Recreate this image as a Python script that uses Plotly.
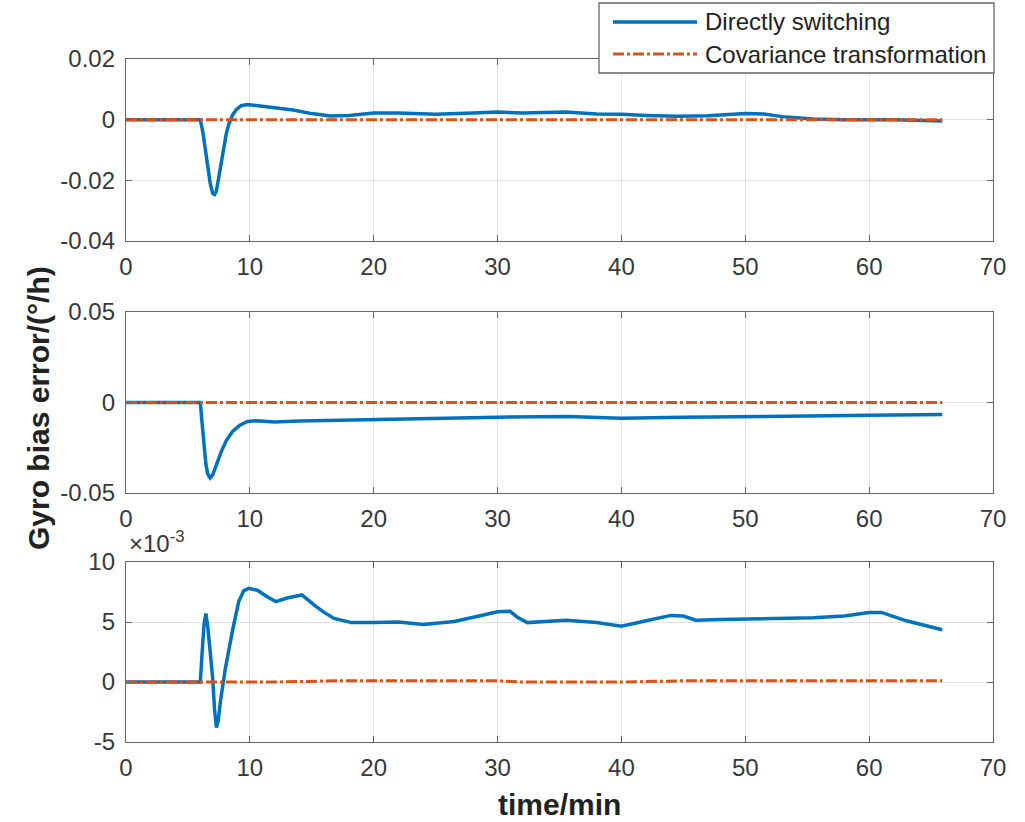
import plotly.graph_objects as go

# ---------------- data ----------------
t_blue1 = [0, 6.0, 6.2, 6.4, 6.6, 6.8, 7.0, 7.15, 7.3, 7.5, 7.7, 7.9, 8.1, 8.3, 8.6, 8.9, 9.3, 9.8, 10.5, 12,
           13.5, 15, 16.5, 18, 20, 22, 25, 28, 30, 32, 35.5, 38, 40, 42, 44.5, 47, 50, 51.5, 53, 55.5, 58, 62,
           65.9]
v_blue1 = [0, 0, -0.004, -0.010, -0.016, -0.021, -0.0243, -0.0247, -0.0235, -0.019, -0.0135, -0.0085, -0.0045,
           -0.0015, 0.0015, 0.0033, 0.0046, 0.005, 0.0047, 0.0038, 0.0032, 0.002, 0.0012, 0.0014, 0.0022, 0.0022,
           0.0018, 0.0022, 0.0025, 0.0022, 0.0025, 0.0019, 0.0018, 0.0014, 0.0011, 0.0013, 0.002, 0.0019, 0.001,
           0.0002, 0, 0, -0.0004]
t_red1 = [0, 6, 10, 20, 30, 40, 50, 60, 65.9]
v_red1 = [0, 0, 0, 0, 0, 0, 0, 0, 0]

t_blue2 = [0, 6.0, 6.15, 6.3, 6.45, 6.6, 6.8, 7.0, 7.3, 7.7, 8.1, 8.6, 9.2, 9.8, 10.5, 12, 14, 17, 20, 25, 30,
           35.7, 40, 45, 50, 55, 60, 65.9]
v_blue2 = [0, 0, -0.012, -0.024, -0.034, -0.0395, -0.0417, -0.040, -0.034, -0.027, -0.021, -0.016, -0.0125,
           -0.0105, -0.0101, -0.0108, -0.0102, -0.0098, -0.0093, -0.0087, -0.0081, -0.0077, -0.0087, -0.0082,
           -0.0076, -0.0074, -0.0071, -0.0066]
t_red2 = [0, 6, 10, 20, 30, 40, 50, 60, 65.9]
v_red2 = [0, 0, 0, 0, 0, 0, 0, 0, 0]

# third panel values in units of 1e-3
t_blue3 = [0, 6.0, 6.15, 6.3, 6.45, 6.6, 6.8, 7.0, 7.15, 7.3, 7.45, 7.6, 8.0, 8.3, 8.6, 9.1, 9.5, 9.9, 10.6,
           11.4, 12.1, 13.0, 14.2, 15.2, 16.0, 16.8, 18.2, 20.0, 22.0, 24.0, 26.5, 28.5, 30.0, 31.0, 31.6, 32.4,
           34.0, 35.5, 38.0, 40.0, 42.0, 44.0, 45.0, 46.0, 48.0, 50.0, 53.0, 55.5, 58.0, 60.0, 61.0, 63.0, 65.9]
v_blue3_e3 = [0, 0, 2.5, 4.8, 5.7, 4.6, 2.5, 0.3, -2.3, -3.8, -3.2, -1.8, 1.0, 2.8, 4.3, 6.7, 7.6, 7.8, 7.65,
              7.1, 6.7, 7.0, 7.25, 6.4, 5.8, 5.3, 4.95, 4.95, 5.0, 4.8, 5.05, 5.5, 5.85, 5.9, 5.4, 4.95, 5.05,
              5.15, 4.95, 4.65, 5.1, 5.55, 5.5, 5.15, 5.2, 5.25, 5.3, 5.35, 5.5, 5.8, 5.8, 5.1, 4.35]
t_red3 = [0, 6, 8, 12, 17, 22, 30, 32, 40, 45, 50, 60, 65.9]
v_red3_e3 = [0, 0, -0.05, 0, 0.1, 0.1, 0.1, 0, 0, 0.1, 0.1, 0.1, 0.1]

x_ticks = [0, 10, 20, 30, 40, 50, 60, 70]
y1_ticks = [0.02, 0, -0.02, -0.04]
y1_text = ["0.02", "0", "-0.02", "-0.04"]
y2_ticks = [0.05, 0, -0.05]
y2_text = ["0.05", "0", "-0.05"]
y3_ticks = [10, 5, 0, -5]
y3_text = ["10", "5", "0", "-5"]

series_names = ["Directly switching", "Covariance transformation"]
BLUE = "#0072BD"
RED = "#D95319"
DASHDOT = "11px,3px,3px,3px"

# ---------------- figure ----------------
W, H = 1025, 822
fig = go.Figure()

panels = [
    (t_blue1, v_blue1, t_red1, v_red1, "x", "y"),
    (t_blue2, v_blue2, t_red2, v_red2, "x2", "y2"),
    (t_blue3, v_blue3_e3, t_red3, v_red3_e3, "x3", "y3"),
]
for tb, vb, tr, vr, xa, ya in panels:
    fig.add_trace(go.Scatter(x=tb, y=vb, mode="lines", name=series_names[0], showlegend=False,
                             line=dict(color=BLUE, width=3.5),
                             xaxis=xa, yaxis=ya))
    fig.add_trace(go.Scatter(x=tr, y=vr, mode="lines", name=series_names[1], showlegend=False,
                             line=dict(color=RED, width=3, dash=DASHDOT),
                             xaxis=xa, yaxis=ya))

def px_x(p):
    return p / W

def px_y(p):
    return 1 - p / H

FONT = "Liberation Sans, Arial, Helvetica, sans-serif"
TICKFONT = dict(family=FONT, size=24, color="#383838")
AXCOL = "#666666"
GRID = "#e3e3e3"

xdom = [px_x(126), px_x(993)]
ydoms = [[px_y(241), px_y(59)], [px_y(493), px_y(312)], [px_y(742), px_y(562)]]
yranges = [[-0.04, 0.02], [-0.05, 0.05], [-5, 10]]
yticks = [(y1_ticks, y1_text), (y2_ticks, y2_text), (y3_ticks, y3_text)]

common_axis = dict(showline=True, linecolor=AXCOL, linewidth=1.3, mirror="ticks", ticks="inside",
                   ticklen=6, tickcolor=AXCOL, tickwidth=1.2, showgrid=True, gridcolor=GRID, gridwidth=1,
                   zeroline=False, tickfont=TICKFONT, automargin=False)

layout = dict(width=W, height=H, margin=dict(l=0, r=0, t=0, b=0, pad=0, autoexpand=False),
              plot_bgcolor="white", paper_bgcolor="white", showlegend=False)
for i in range(3):
    sx = "" if i == 0 else str(i + 1)
    layout["xaxis" + sx] = dict(domain=xdom, range=[0, 70], tickvals=x_ticks,
                                anchor="y" + sx, ticklabelstandoff=4, **common_axis)
    layout["yaxis" + sx] = dict(domain=ydoms[i], range=yranges[i], tickvals=yticks[i][0],
                                ticktext=yticks[i][1], anchor="x" + sx, ticklabelstandoff=5,
                                **common_axis)
fig.update_layout(**layout)

annotations = [
    dict(text="<b>time/min</b>", x=px_x(559), y=0, xref="paper", yref="paper",
         showarrow=False, font=dict(family=FONT, size=30, color="#222222"),
         xanchor="center", yanchor="bottom", borderpad=0),
    dict(text="<b>Gyro bias error/(°/h)</b>", x=px_x(38), y=px_y(408), xref="paper", yref="paper",
         showarrow=False, textangle=-90, font=dict(family=FONT, size=30, color="#222222"),
         xanchor="center", yanchor="middle"),
    dict(text="×10<sup>-3</sup>", x=px_x(127), y=px_y(559), xref="paper", yref="paper",
         showarrow=False, font=dict(family=FONT, size=24, color="#383838"),
         xanchor="left", yanchor="bottom"),
    dict(text=series_names[0], x=px_x(703), y=px_y(22), xref="paper", yref="paper",
         showarrow=False, font=dict(family=FONT, size=24, color="#222222"),
         xanchor="left", yanchor="middle"),
    dict(text=series_names[1], x=px_x(703), y=px_y(54), xref="paper", yref="paper",
         showarrow=False, font=dict(family=FONT, size=24, color="#222222"),
         xanchor="left", yanchor="middle"),
]

shapes = [
    dict(type="rect", xref="paper", yref="paper", x0=px_x(599), x1=px_x(994), y0=px_y(73), y1=px_y(3),
         fillcolor="white", line=dict(color=AXCOL, width=1.3), layer="above"),
    dict(type="line", xref="paper", yref="paper", x0=px_x(613), x1=px_x(697), y0=px_y(22), y1=px_y(22),
         line=dict(color=BLUE, width=3.5), layer="above"),
    dict(type="line", xref="paper", yref="paper", x0=px_x(613), x1=px_x(697), y0=px_y(54), y1=px_y(54),
         line=dict(color=RED, width=3, dash=DASHDOT), layer="above"),
]
fig.update_layout(annotations=annotations, shapes=shapes)

fig.write_html("out.html")
